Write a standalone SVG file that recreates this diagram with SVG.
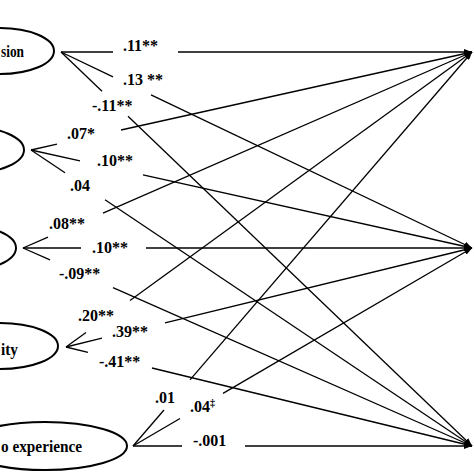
<svg xmlns="http://www.w3.org/2000/svg" width="474" height="474" viewBox="0 0 474 474">
<style>
.node ellipse{fill:#fff;stroke:#000;stroke-width:2}
.lbl{font-family:"Liberation Serif","Times New Roman",serif;font-weight:bold;font-size:16px;fill:#000}
.conn line{stroke:#000;stroke-width:1.3}
</style>
<defs>
<marker id="ah" markerUnits="userSpaceOnUse" markerWidth="8" markerHeight="6" refX="8" refY="3" orient="auto">
<path d="M0,0 L8,3 L0,6 z" fill="#000"/>
</marker>
</defs>
<rect width="474" height="474" fill="#fff"/>
<g id="node-extraversion" class="node"><ellipse cx="0" cy="51" rx="54" ry="23"/><text class="lbl" x="1" y="57" textLength="23" lengthAdjust="spacingAndGlyphs">sion</text></g>
<g id="node-2" class="node"><ellipse cx="-30" cy="150" rx="54" ry="23"/></g>
<g id="node-3" class="node"><ellipse cx="-38" cy="248" rx="54" ry="23"/></g>
<g id="node-stability" class="node"><ellipse cx="0" cy="346" rx="58" ry="23"/><text class="lbl" x="1" y="355" textLength="17" lengthAdjust="spacingAndGlyphs">ity</text></g>
<g id="node-openness" class="node"><ellipse cx="45" cy="446" rx="82" ry="24"/><text class="lbl" x="1" y="452" textLength="81" lengthAdjust="spacingAndGlyphs">o experience</text></g>
<g id="connectors" class="conn">
<line x1="61" y1="52" x2="113" y2="52"/><line x1="178" y1="52" x2="472" y2="52" marker-end="url(#ah)"/>
<line x1="61" y1="52" x2="113" y2="76.8"/><line x1="151" y1="94.9" x2="472" y2="248" marker-end="url(#ah)"/>
<line x1="61" y1="52" x2="102" y2="91.3"/><line x1="128" y1="116.2" x2="472" y2="446" marker-end="url(#ah)"/>
<line x1="31" y1="150" x2="57" y2="144.2"/><line x1="121" y1="130" x2="472" y2="52" marker-end="url(#ah)"/>
<line x1="31" y1="150" x2="80" y2="160.9"/><line x1="143" y1="174.9" x2="472" y2="248" marker-end="url(#ah)"/>
<line x1="31" y1="150" x2="65" y2="172.8"/><line x1="105" y1="199.7" x2="472" y2="446" marker-end="url(#ah)"/>
<line x1="23" y1="248" x2="48" y2="237.1"/><line x1="103" y1="213.1" x2="472" y2="52" marker-end="url(#ah)"/>
<line x1="23" y1="248" x2="81" y2="248"/><line x1="146" y1="248" x2="472" y2="248" marker-end="url(#ah)"/>
<line x1="23" y1="248" x2="50" y2="259.9"/><line x1="113" y1="287.7" x2="472" y2="446" marker-end="url(#ah)"/>
<line x1="66" y1="347" x2="86" y2="332.5"/><line x1="130" y1="300.5" x2="472" y2="52" marker-end="url(#ah)"/>
<line x1="66" y1="347" x2="102" y2="338.2"/><line x1="165" y1="322.9" x2="472" y2="248" marker-end="url(#ah)"/>
<line x1="66" y1="347" x2="88" y2="352.4"/><line x1="152" y1="368" x2="472" y2="446" marker-end="url(#ah)"/>
<line x1="133" y1="446" x2="164" y2="410"/><line x1="190" y1="379.8" x2="472" y2="52" marker-end="url(#ah)"/>
<line x1="133" y1="446" x2="180" y2="418.5"/><line x1="223" y1="393.4" x2="472" y2="248" marker-end="url(#ah)"/>
<line x1="133" y1="446" x2="182" y2="446"/><line x1="245" y1="446" x2="472" y2="446" marker-end="url(#ah)"/>
</g>
<g id="labels">
<text class="lbl" x="123" y="51">.11**</text>
<text class="lbl" x="123" y="85">.13 **</text>
<text class="lbl" x="92" y="111">-.11**</text>
<text class="lbl" x="67" y="139">.07*</text>
<text class="lbl" x="97" y="166">.10**</text>
<text class="lbl" x="70" y="191">.04</text>
<text class="lbl" x="49" y="229">.08**</text>
<text class="lbl" x="92" y="253">.10**</text>
<text class="lbl" x="59" y="279">-.09**</text>
<text class="lbl" x="78" y="321">.20**</text>
<text class="lbl" x="112" y="337">.39**</text>
<text class="lbl" x="99" y="367">-.41**</text>
<text class="lbl" x="155" y="403">.01</text>
<text class="lbl" x="190" y="412">.04<tspan font-size="10" dy="-6">‡</tspan></text>
<text class="lbl" x="193" y="446">-.001</text>
</g>
</svg>
